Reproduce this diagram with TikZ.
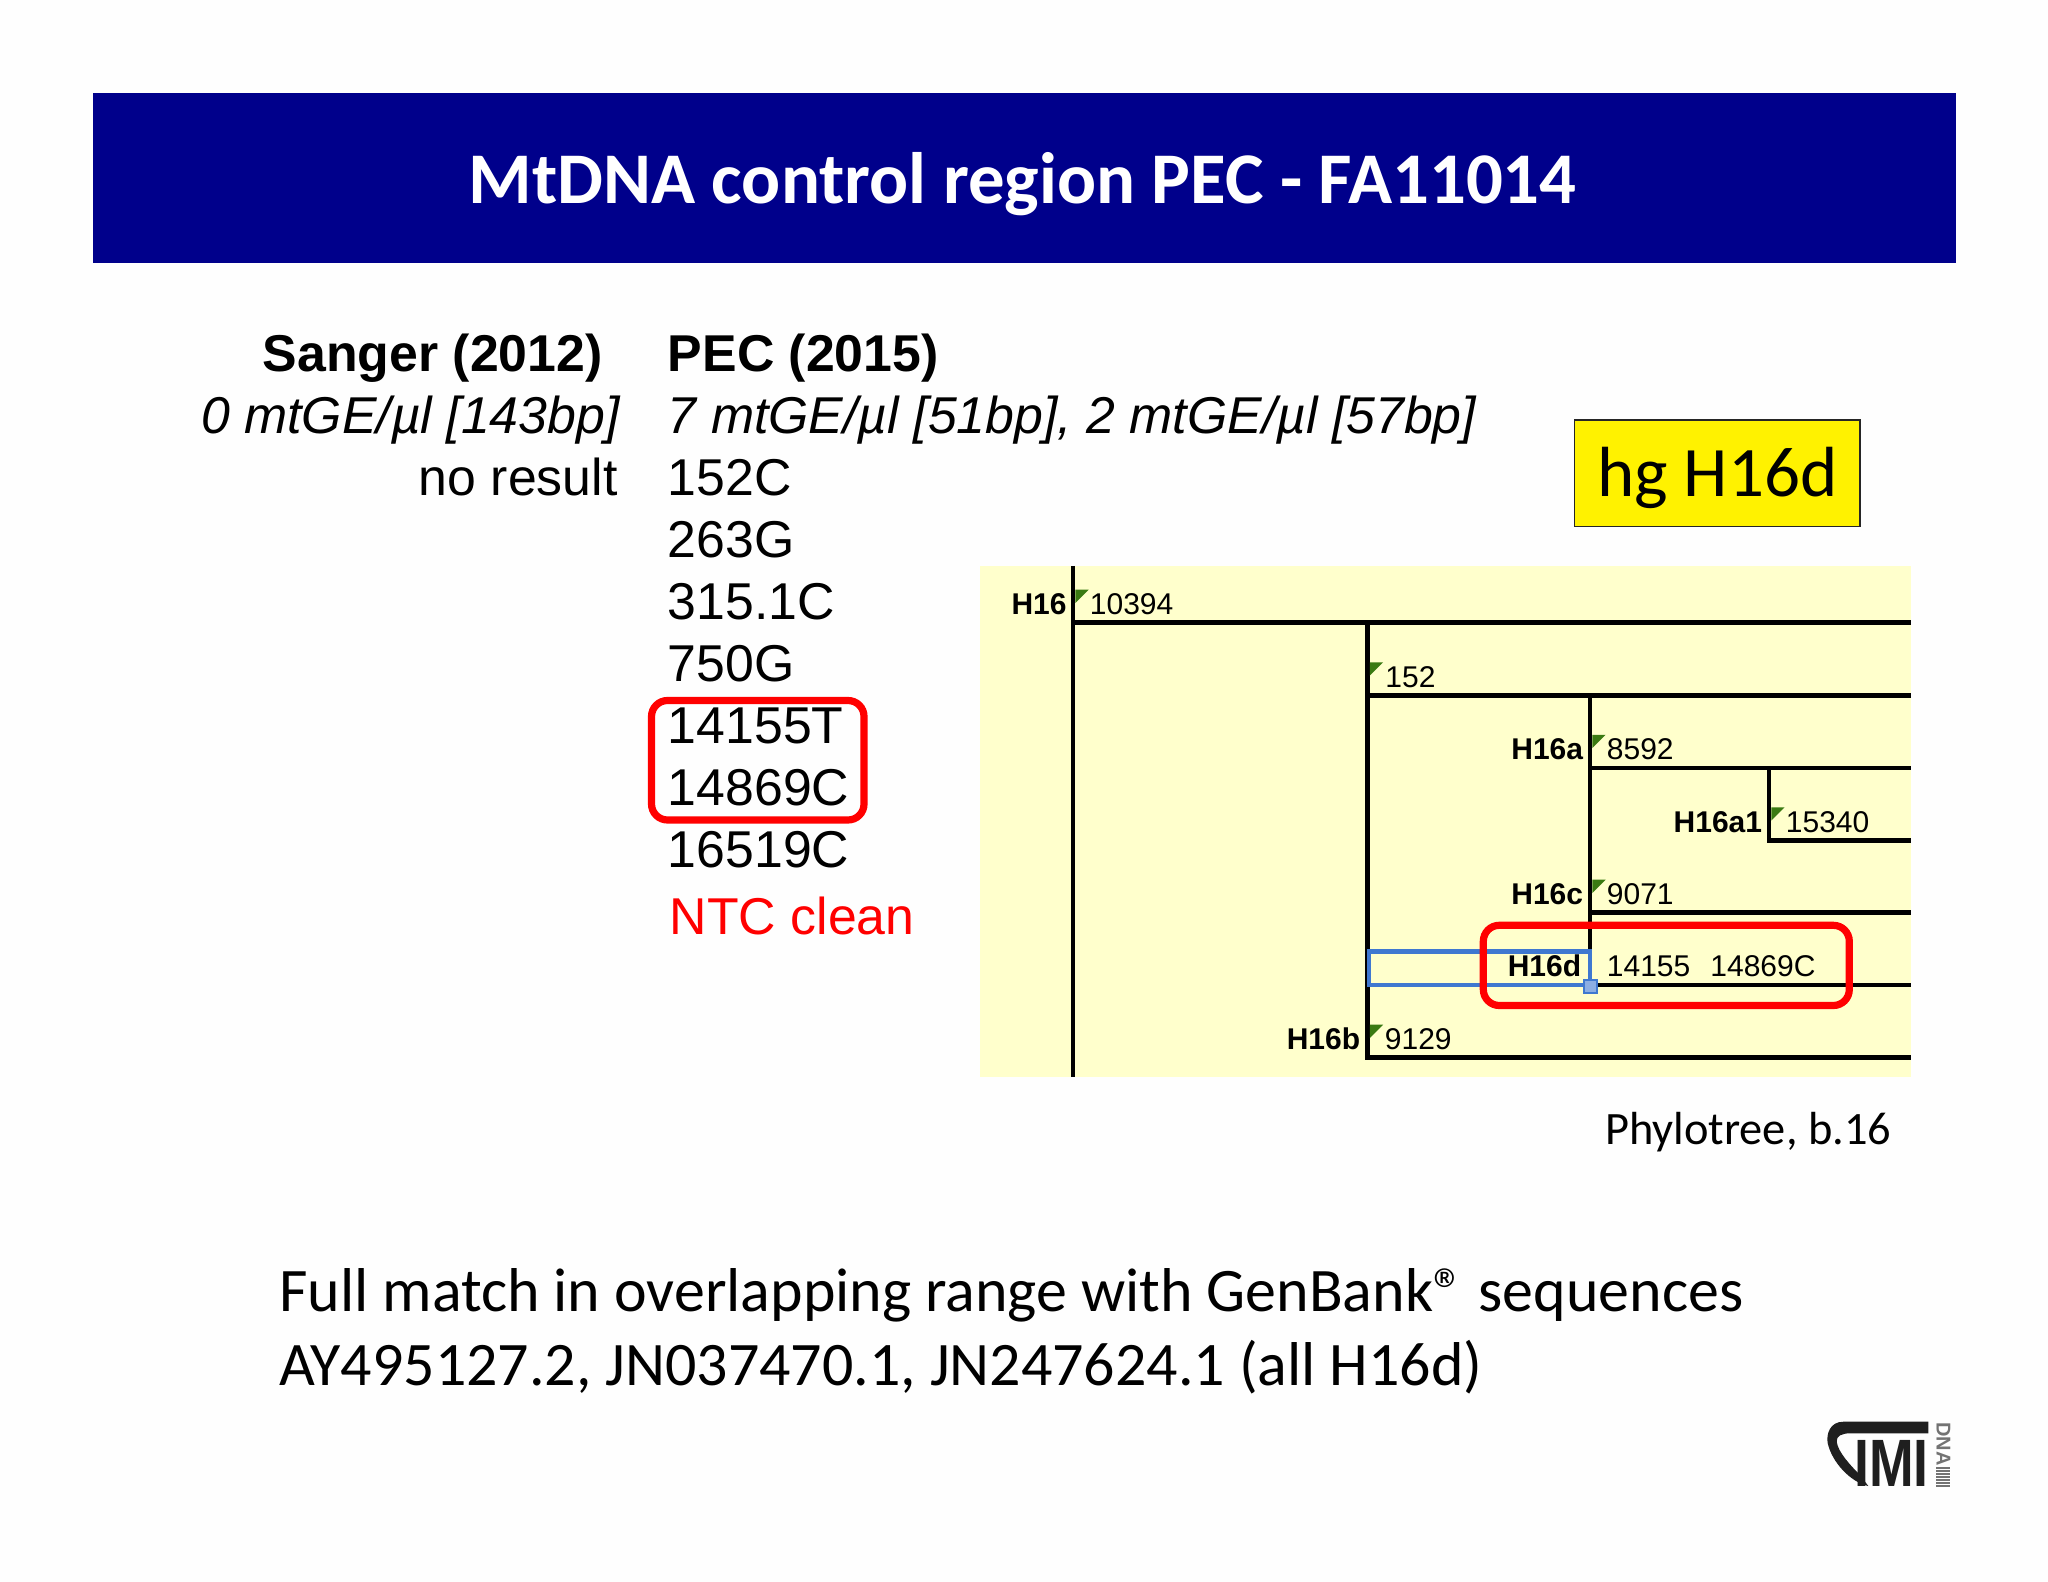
\documentclass[tikz,border=0pt]{standalone}
\usepackage{fontspec}
\setmainfont{Carlito}
\newfontfamily\arialfont{Liberation Sans}
\definecolor{pagewhite}{HTML}{FEFEFE}
\definecolor{bannerblue}{HTML}{00008B}
\definecolor{panelyellow}{HTML}{FFFFCC}
\definecolor{boxblue}{HTML}{3F78D0}
\definecolor{flaggreen}{HTML}{3A7A12}
\begin{document}
\begin{tikzpicture}[x=.5pt,y=-.5pt,
		result/.style={anchor=base west,inner sep=0pt,font=\arialfont\fontsize{25.9}{30}\selectfont},
		resultl/.style={result,anchor=base east},
		branch/.style={line width=2.3pt},
		tag/.style={anchor=base east,inner sep=0pt,font=\arialfont\bfseries\fontsize{15}{18}\selectfont},
		locus/.style={anchor=base west,inner sep=0pt,font=\arialfont\fontsize{15}{18}\selectfont},
		flag/.style={fill=flaggreen},
		redbox/.style={draw=red,line width=3.6pt,rounded corners=8pt},
		slide/.style={anchor=base west,inner sep=0pt,font=\fontsize{30.95}{37}\selectfont}]
	\fill[pagewhite] (0,0) rectangle (2048,1582);
	\useasboundingbox (0,0) rectangle (2048,1582);
	\node (banner) [fill=bannerblue,minimum width=931.2pt,minimum height=85pt,inner sep=0pt] at(1024.3,178) {};
	\node (title) [anchor=base,inner sep=0pt,text=white,font=\bfseries\fontsize{36.4}{44}\selectfont] at(1022.5,204) {MtDNA control region PEC - FA11014};
	% left column
	\node (sanger) [resultl,font=\arialfont\bfseries\fontsize{25.9}{30}\selectfont] at(603,372) {Sanger (2012)};
	\node (sangerq) [resultl,font=\arialfont\itshape\fontsize{25.9}{30}\selectfont] at(620,433.5) {0 mtGE/µl [143bp]};
	\node (noresult) [resultl] at(618,495.5) {no result};
	% right column
	\node (pec) [result,font=\arialfont\bfseries\fontsize{25.9}{30}\selectfont] at(667.5,372) {PEC (2015)};
	\node (pecq) [result,font=\arialfont\itshape\fontsize{25.9}{30}\selectfont] at(667.5,433.5) {7 mtGE/µl [51bp], 2 mtGE/µl [57bp]};
	\node (v152) [result] at(667.5,495.5) {152C};
	\node (v263) [result] at(667.5,557.5) {263G};
	\node (v315) [result] at(667.5,619.5) {315.1C};
	\node (v750) [result] at(667.5,681.5) {750G};
	\node (v14155) [result] at(667.5,743.5) {14155T};
	\node (v14869) [result] at(667.5,805.5) {14869C};
	\node (v16519) [result] at(667.5,867.5) {16519C};
	\node (ntc) [result,text=red] at(669.5,934) {NTC clean};
	\draw[redbox] (651.5,700.5) rectangle (864,820);
	% haplogroup box
	\node (hg) [draw=black!85,line width=.7pt,fill=yellow,minimum width=142.9pt,minimum height=53.3pt,inner sep=0pt,text height=32pt,text depth=8.6pt,font=\fontsize{35.5}{42}\selectfont] at(1717.2,473.3) {hg H16d};
	% tree panel
	\fill[panelyellow] (980,566) rectangle (1911,1077);
	\coordinate (h16top) at(1073,566);
	\coordinate (h16bot) at(1073,1077);
	\coordinate (h16) at(1073,622.7);
	\coordinate (h16end) at(1911,622.7);
	\coordinate (j152) at(1367.5,622.7);
	\coordinate (h152) at(1367.5,695.3);
	\coordinate (h152end) at(1911,695.3);
	\coordinate (h16b) at(1367.5,1057.7);
	\coordinate (h16bend) at(1911,1057.7);
	\coordinate (j8592) at(1590,695.3);
	\coordinate (h16a) at(1590,767.8);
	\coordinate (h16aend) at(1911,767.8);
	\coordinate (j15340) at(1769,767.8);
	\coordinate (h16a1) at(1769,840.3);
	\coordinate (h16a1end) at(1911,840.3);
	\coordinate (h16c) at(1590,912.7);
	\coordinate (h16cend) at(1911,912.7);
	\coordinate (h16d) at(1590,985);
	\coordinate (h16dend) at(1911,985);
	\draw[branch] (h16top) -- (h16bot);
	\draw[branch] (h16) -- (h16end);
	\draw[branch] (j152) -- (h16b) -- (h16bend);
	\draw[branch] (h152) -- (h152end);
	\draw[branch] (j8592) -- (h16d) -- (h16dend);
	\draw[branch] (h16a) -- (h16aend);
	\draw[branch] (j15340) -- (h16a1) -- (h16a1end);
	\draw[branch] (h16c) -- (h16cend);
	\foreach \p in {h16,h152,h16a,h16a1,h16c,h16b}
		\fill[flag] (\p) ++(2.3,-33) -- ++(13.3,0) -- ++(-13.3,13.3) -- cycle;
	\node (t16) [tag] at(1067,614.4) {H16};
	\node (t16a) [tag] at(1583.5,759.5) {H16a};
	\node (t16a1) [tag] at(1762.5,832) {H16a1};
	\node (t16c) [tag] at(1583.5,904.4) {H16c};
	\node (t16d) [tag] at(1581.5,976.7) {H16d};
	\node (t16b) [tag] at(1360.5,1049.4) {H16b};
	\node (p10394) [locus] at(1089.5,614.4) {10394};
	\node (p152) [locus] at(1385,687) {152};
	\node (p8592) [locus] at(1606.5,759.5) {8592};
	\node (p15340) [locus] at(1785.5,832) {15340};
	\node (p9071) [locus] at(1606.5,904.4) {9071};
	\node (p14155) [locus] at(1606.5,976.7) {14155};
	\node (p14869) [locus] at(1710,976.7) {14869C};
	\node (p9129) [locus] at(1384.5,1049.4) {9129};
	\draw[boxblue,line width=2.3pt] (1369,951.7) rectangle (1590,985);
	\draw[boxblue,line width=.8pt,fill=boxblue!60!white] (1584,980) rectangle (1597,993);
	\draw[redbox] (1483.3,925.3) rectangle (1849.3,1005.5);
	\node (source) [anchor=base east,inner sep=0pt,font=\fontsize{23.2}{28}\selectfont] at(1891.5,1144) {Phylotree, b.16};
	% conclusion
	\node (full) [slide] at(279,1311) {Full match in overlapping range with GenBank® sequences};
	\node (seqs) [slide] at(279,1385.5) {AY495127.2, JN037470.1, JN247624.1 (all H16d)};
	% logo
	\fill[black!88] (1928.3,1421.7) -- (1843.3,1421.7) .. controls (1830,1421.7) and (1826,1434) .. (1827.7,1443.3)
		.. controls (1832,1462) and (1850,1482) .. (1868.3,1486) -- (1860,1475)
		.. controls (1850,1465) and (1838,1452) .. (1836.7,1441.7)
		.. controls (1836,1436) and (1842,1433.3) .. (1850,1433.3) -- (1928.3,1433.3) -- cycle;
	\node (gmi) [anchor=base east,inner sep=0pt,text=black!88,font=\arialfont\bfseries\fontsize{33.5}{40}\selectfont] at(1929,1486) {\scalebox{.8}[1]{IMI}};
	\node (dna) [anchor=base west,inner sep=0pt,rotate=-90,text=black!55,font=\arialfont\bfseries\fontsize{10}{12}\selectfont] at(1936.5,1422) {DNA};
	\foreach \y in {1467,1470,1473,1476,1479,1482,1485}
		\fill[black!55] (1936,\y) rectangle (1950,\y+1.6);
\end{tikzpicture}
\end{document}
